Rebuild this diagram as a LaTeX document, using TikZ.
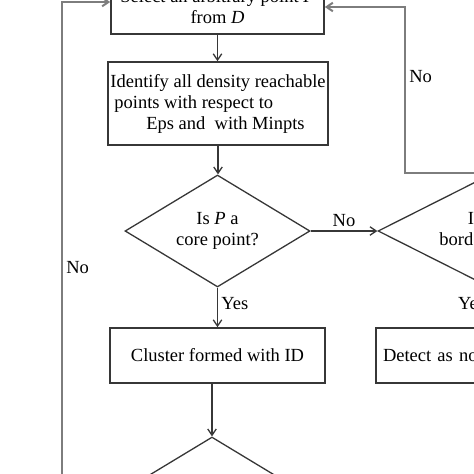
\documentclass[tikz,border=0pt]{standalone}
\usepackage{fontspec}
\setmainfont{Liberation Serif}
\usetikzlibrary{arrows.meta,shapes.geometric,calc}
\definecolor{ink}{RGB}{55,55,55}
\definecolor{loopgray}{RGB}{125,125,125}
\tikzset{
  >={Straight Barb[length=2.2mm,width=3mm]},
  box/.style={draw=ink,line width=1.6pt,inner sep=0pt,align=center,
    minimum width=#1,minimum height=55pt},
  box/.default=215pt,
  test/.style={diamond,aspect=1.8,draw=ink,line width=1.3pt,inner sep=0pt,
    minimum width=#1,minimum height=112pt,align=center},
  test/.default=185pt,
  flow/.style={->,line width=1.3pt,draw=ink},
  back/.style={->,line width=2pt,draw=loopgray},
}

\begin{document}
\begin{tikzpicture}[x=1pt,y=-1pt,font=\fontsize{18.5}{21}\selectfont]
  \useasboundingbox (0,0) rectangle (474,474);
  \node[box=213pt,minimum height=54pt] (sel) at (217.5,7) {Select an arbitrary point \textit{P}\\from \textit{D}};
  \node[box=220pt,minimum height=83pt,align=left] (ident) at (218,103.5)
    {Identify all density reachable\\\hspace*{4pt}points with respect to\\\hspace*{36pt}Eps and~ with Minpts};
  \node[test] (core) at (217.5,231) {Is \textit{P} a\\core point?};
  \node[test=222pt] (border) at (489,231) {Is \textit{P} a\\border point?};
  \node[box] (clus) at (217.5,355.5) {Cluster formed with ID};
  \node[box,text width=201pt,align=left] (noise) at (483.5,355.5) {Detect as noise};
  \node[test] (next) at (212,493) {};
  \coordinate (ltop) at (62,2);
  \coordinate (rturn) at (405,173);

  \draw[flow] (sel.south) -- (sel.south |- ident.north);
  \draw[flow] (ident.south) -- (ident.south |- core.north);
  \draw[flow] (core) -- node[above]{No} (border);
  \draw[flow] (core) -- node[right,pos=0.4]{Yes} (clus);
  \draw[flow] (border.south) -- node[left,pos=0.4]{Yes} (border.south |- noise.north);
  \draw[flow] (clus.south -| next.north) -- (next);
  % loops back to the start
  \draw[back] (next.west) -| node[pos=0.73,right]{No} (ltop) -- (ltop -| sel.west);
  \draw[back] (border.east) -- ++(25,0) |- (rturn) |- node[pos=0.29,right]{No} (sel.east);
\end{tikzpicture}
\end{document}
